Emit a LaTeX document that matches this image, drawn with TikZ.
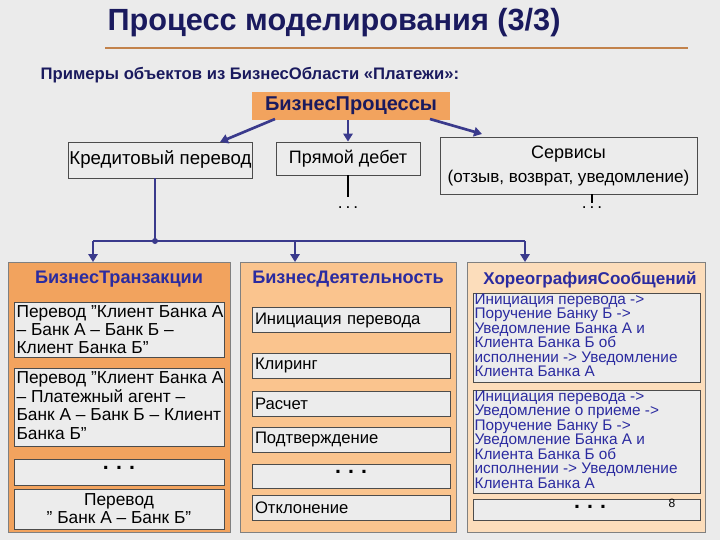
\documentclass[tikz,border=0pt]{standalone}
\usepackage{fontspec}
\setmainfont{Liberation Sans}
\usetikzlibrary{arrows.meta}
\definecolor{bg}{HTML}{EBEBEB}
\definecolor{navy}{HTML}{1A1A5E}
\definecolor{lnk}{HTML}{3A3A8C}
\definecolor{or1}{HTML}{F2A35E}
\definecolor{or2}{HTML}{FAC48E}
\definecolor{or3}{HTML}{FCDDBB}
\definecolor{bx}{HTML}{ECECEC}
\definecolor{txtb}{HTML}{2B2BA0}
\tikzset{
 box/.style={draw=black!70,fill=bx,line width=0.6pt},
 conn/.style={draw=lnk,line width=2pt},
 arr/.style={conn,-{Triangle[length=6pt,width=7pt]}},
 t/.style={font=\fontsize{13}{14}\selectfont,inner sep=1pt,align=left},
 t2/.style={font=\fontsize{12.5}{14}\selectfont,inner sep=1pt,align=left},
 t3/.style={font=\fontsize{11.5}{10.9}\selectfont,inner sep=1pt,align=left,text=txtb},
 hd/.style={font=\bfseries\fontsize{13.6}{15}\selectfont,text=txtb},
 dots/.style={font=\bfseries\fontsize{16}{16}\selectfont}
}
\begin{document}
\begin{tikzpicture}[x=0.75pt,y=-0.75pt]
\fill[bg] (0,0) rectangle (720,540);
\useasboundingbox (0,0) rectangle (720,540);
\node[font=\bfseries\fontsize{23}{26}\selectfont,text=navy] (title) at (334,23) {Процесс моделирования (3/3)};
\draw[or1!80!black,line width=1pt] (105,48) -- (688,48);
\node[anchor=west,font=\bfseries\fontsize{12.5}{14}\selectfont,text=navy] (sub) at (36,75) {Примеры объектов из БизнесОбласти «Платежи»:};
% top
\node[fill=or1,minimum width=198*0.75pt,minimum height=28*0.75pt,font=\bfseries\fontsize{15}{17}\selectfont,text=navy] (bp) at (351,106) {БизнесПроцессы};
\node[box,minimum width=183*0.75pt,minimum height=36*0.75pt,inner sep=1pt,font=\fontsize{14}{16}\selectfont] (kp) at (160.5,160) {Кредитовый перевод};
\node[box,minimum width=144*0.75pt,minimum height=33*0.75pt,font=\fontsize{13.5}{15}\selectfont] (pd) at (348,158.5) {Прямой дебет};
\node[box,minimum width=257*0.75pt,minimum height=57*0.75pt,inner sep=1pt,align=center,font=\fontsize{13.5}{18}\selectfont] (sv) at (568.5,165.5) {Сервисы\\{\fontsize{12.8}{18}\selectfont (отзыв, возврат, уведомление)}};
\coordinate (a1) at (275,119); \coordinate (a2) at (348,120); \coordinate (a3) at (430,119);
\coordinate (k1) at (220,142); \coordinate (s1) at (482,134);
\draw[arr] (a1) -- (k1);
\draw[arr] (a2) -- (pd.north);
\draw[arr] (a3) -- (s1);
\coordinate (pd1) at (348,197); \coordinate (sv1) at (592,203); \coordinate (sv0) at (592,194);
\draw[black,line width=1pt] (pd.south) -- (pd1);
\draw[black,line width=1pt] (sv0) -- (sv1);
\node[font=\fontsize{13}{13}\selectfont] (d1) at (348,208) {.\,.\,.};
\node[font=\fontsize{13}{13}\selectfont] (d2) at (592,208) {.\,.\,.};
\coordinate (j) at (155,241); \coordinate (j0) at (155,178);
\coordinate (hl) at (93,241); \coordinate (hm) at (295,241); \coordinate (hr) at (525,241);
\coordinate (e1) at (93,262); \coordinate (e2) at (295,262); \coordinate (e3) at (525,262);
\draw[conn,line width=1.8pt] (j0) -- (j);
\fill[lnk] (j) circle (3);
\draw[conn,line width=1.8pt] (hl) -- (hr);
% columns
\node[fill=or1,draw=black!50,minimum width=222*0.75pt,minimum height=270*0.75pt] (c1) at (119,397) {};
\node[fill=or2,draw=black!50,minimum width=216*0.75pt,minimum height=270*0.75pt] (c2) at (348,397) {};
\node[fill=or3,draw=black!50,minimum width=238*0.75pt,minimum height=270*0.75pt] (c3) at (586,397) {};
\draw[arr,line width=1.8pt] (hl) -- (e1);
\draw[arr,line width=1.8pt] (hm) -- (e2);
\draw[arr,line width=1.8pt] (hr) -- (e3);
\node[hd] (h1) at (119,279) {БизнесТранзакции};
\node[hd] (h2) at (348,279) {БизнесДеятельность};
\node[hd,font=\bfseries\fontsize{12.8}{15}\selectfont] (h3) at (590,280) {ХореографияСообщений};
% col1
\node[box,minimum width=210*0.75pt,minimum height=55*0.75pt] (b11) at (119,329.5) {};
\node[t,anchor=north west,font=\fontsize{13}{13.3}\selectfont] (t11) at (15,304) {Перевод "Клиент Банка А\\– Банк А – Банк Б –\\Клиент Банка Б"};
\node[box,minimum width=210*0.75pt,minimum height=78*0.75pt] (b12) at (119,407) {};
\node[t,anchor=north west] (t12) at (15,370) {Перевод "Клиент Банка А\\– Платежный агент –\\Банк А – Банк Б – Клиент\\Банка Б"};
\node[box,minimum width=210*0.75pt,minimum height=26*0.75pt] (b13) at (119,472) {};
\node[dots] (t13) at (119,468) {.\,\,.\,\,.};
\node[box,minimum width=210*0.75pt,minimum height=40*0.75pt,t,font=\fontsize{13}{13.5}\selectfont,align=center] (b14) at (119,509) {Перевод\\" Банк А – Банк Б"};
% col2
\foreach \n/\y/\s in {i/320/Инициация перевода,k/365.5/Клиринг,r/403.5/Расчет,p/439.5/Подтверждение,o/507.5/Отклонение}{
 \node[box,minimum width=198*0.75pt,minimum height=25*0.75pt,text width=192*0.75pt,t2] (c2\n) at (351,\y) {\s};
}
\node[box,minimum width=198*0.75pt,minimum height=24*0.75pt] (c2d) at (351,476) {};
\node[dots] (t2d) at (351,472) {.\,\,.\,\,.};
% col3
\node[box,minimum width=227*0.75pt,minimum height=89*0.75pt] (b31) at (586.5,337.5) {};
\node[t3,anchor=north west] (t31) at (473,292) {Инициация перевода ->\\Поручение Банку Б ->\\Уведомление Банка А и\\Клиента Банка Б об\\исполнении -> Уведомление\\Клиента Банка А};
\node[box,minimum width=227*0.75pt,minimum height=103*0.75pt] (b32) at (586.5,441.5) {};
\node[t3,anchor=north west] (t32) at (473,389) {Инициация перевода ->\\Уведомление о приеме ->\\Поручение Банку Б ->\\Уведомление Банка А и\\Клиента Банка Б об\\исполнении -> Уведомление\\Клиента Банка А};
\node[box,minimum width=227*0.75pt,minimum height=21*0.75pt] (b33) at (586.5,510) {};
\node[dots] (t33) at (590,507) {.\,\,.\,\,.};
\node[font=\fontsize{9}{10}\selectfont] (pg) at (672,503) {8};
\end{tikzpicture}
\end{document}
